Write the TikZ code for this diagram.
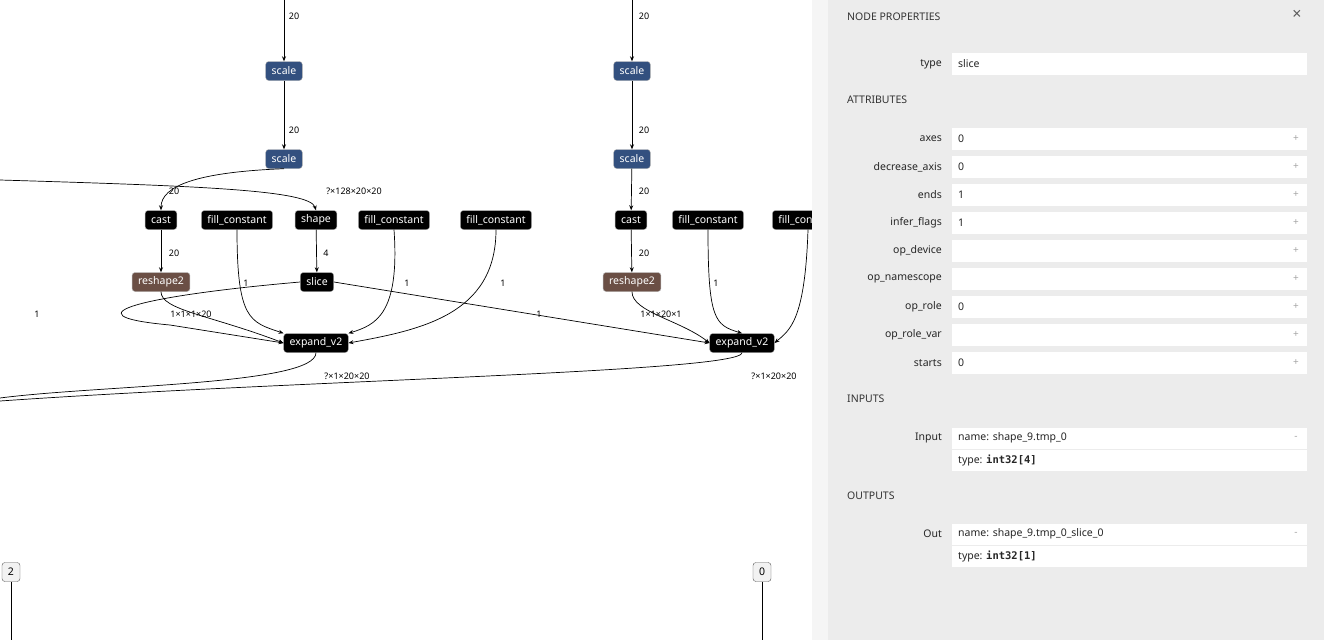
\documentclass[tikz,border=0pt]{standalone}
\usepackage{fontspec}
\setmainfont{Noto Sans}
\newfontfamily\monof{DejaVu Sans Mono}
\usetikzlibrary{arrows.meta}
\definecolor{sc}{HTML}{33507F}
\definecolor{rs}{HTML}{6B4F45}
\definecolor{pbg}{HTML}{ECECEC}
\begin{document}
\begin{tikzpicture}[x=1pt,y=-1pt,
 op/.style={rounded corners=3pt,fill=black,draw=gray!60,text=white,font=\fontsize{10.5}{12}\selectfont,minimum height=19pt,inner xsep=6pt,inner ysep=0pt},
 scl/.style={op,fill=sc},
 rsh/.style={op,fill=rs},
 num/.style={rounded corners=3pt,fill=white!95!black,draw=gray!70!black,font=\fontsize{10.5}{12}\selectfont,minimum width=18pt,minimum height=19pt,inner sep=0pt},
 e/.style={draw=black,line width=0.7pt,-{Stealth[length=5pt,width=4pt]}},
 ln/.style={draw=black,line width=0.7pt},
 lb/.style={font=\fontsize{9}{10}\selectfont,inner sep=0pt},
 pl/.style={font=\fontsize{10.5}{12}\selectfont,anchor=east,inner sep=0pt,text=black!85},
 pv/.style={font=\fontsize{10.5}{12}\selectfont,anchor=west,inner sep=0pt,text=black!85},
 ph/.style={font=\bfseries\fontsize{10.5}{12}\selectfont,anchor=west,inner sep=0pt,text=black!80},
 box/.style={fill=white,draw=none}]
\useasboundingbox (0,0) rectangle (1324,640);
\fill[white] (0,0) rectangle (1324,640);
\begin{scope}
\clip (0,0) rectangle (812,640);
% left column
\coordinate (tl) at (284,0);
\node[scl] (s1) at (284,71) {scale};
\node[scl] (s2) at (284,159) {scale};
\node[op] (c1) at (161,220) {cast};
\node[op] (f1) at (237,220) {fill\_constant};
\node[op] (sh) at (316,220) {shape};
\node[op] (f2) at (394,220) {fill\_constant};
\node[op] (f3) at (496,220) {fill\_constant};
\node[rsh] (r1) at (161,282) {reshape2};
\node[op] (sl) at (317,282) {slice};
\node[op] (x1) at (316,343) {expand\_v2};
% right column
\coordinate (tr) at (632,0);
\node[scl] (s3) at (632,71) {scale};
\node[scl] (s4) at (632,159) {scale};
\node[op] (c2) at (631,220) {cast};
\node[op] (f4) at (708,220) {fill\_constant};
\node[op] (f5) at (808,220) {fill\_constant};
\node[rsh] (r2) at (632,282) {reshape2};
\node[op] (x2) at (742,343) {expand\_v2};
\node[num] (n2) at (11,572) {2};
\node[num] (n0) at (762,572) {0};
\coordinate (lft) at (0,180);
\coordinate (o1) at (0,398);
\coordinate (o2) at (0,401);
\coordinate (b2) at (11,640);
\coordinate (b0) at (762,640);

\draw[e] (tl) -- (s1);
\draw[e] (s1) -- (s2);
\draw[e] (tr) -- (s3);
\draw[e] (s3) -- (s4);
\draw[e] (s2.south) .. controls (200,172) and (161,185) .. (c1.north);
\draw[e] (lft) .. controls (200,186) and (310,190) .. (sh.north);
\draw[e] (s4) -- (c2);
\draw[e] (c1) -- (r1);
\draw[e] (c2) -- (r2);
\draw[e] (sh) -- (sl);
\draw[e] (f1.south) .. controls (237,320) and (250,322) .. (x1.north west);
\draw[e] (f2.south) .. controls (400,315) and (375,325) .. (x1.north east);
\draw[e] (f3.south) .. controls (496,315) and (420,330) .. (x1.east);
\draw[e] (r1.south) .. controls (161,310) and (210,315) .. (x1.west);
\draw[e] (sl.west) .. controls (150,295) and (60,315) .. (170,325) -- (x1.west);
\draw[e] (sl.east) -- (x2.west);
\draw[e] (r2.south) .. controls (632,312) and (680,320) .. (x2.west);
\draw[e] (f4.south) .. controls (708,320) and (715,325) .. (x2.north);
\draw[e] (f5.south) .. controls (805,320) and (790,330) .. (x2.east);
\draw[ln] (x1.south) .. controls (316,385) and (100,385) .. (o1);
\draw[ln] (x2.south) .. controls (742,372) and (300,380) .. (o2);
\draw[ln] (n2) -- (b2);
\draw[ln] (n0) -- (b0);

\node[lb] at (294,16) {20};
\node[lb] at (644,16) {20};
\node[lb] at (294,130) {20};
\node[lb] at (644,130) {20};
\node[lb] at (174,191) {20};
\node[lb] at (644,191) {20};
\node[lb] at (354,191) {?×128×20×20};
\node[lb] at (174,253) {20};
\node[lb] at (644,253) {20};
\node[lb] at (326,253) {4};
\node[lb] at (246,283) {1};
\node[lb] at (407,283) {1};
\node[lb] at (503,283) {1};
\node[lb] at (716,283) {1};
\node[lb] at (37,314) {1};
\node[lb] at (191,314) {1×1×1×20};
\node[lb] at (539,314) {1};
\node[lb] at (661,314) {1×1×20×1};
\node[lb] at (347,376) {?×1×20×20};
\node[lb] at (774,376) {?×1×20×20};
\end{scope}
% panel
\fill[black!4] (812,0) rectangle (828,640);
\fill[pbg] (828,0) rectangle (1324,640);
\node[ph] (h1) at (847,17) {NODE PROPERTIES};
\node[font=\fontsize{16}{16}\selectfont,text=black!65,inner sep=0pt] (cl) at (1297,15) {×};
\fill[white] (952,53) rectangle (1307,75);
\node[pl] (ltype) at (942,64) {type};
\node[pv] (vtype) at (958,64) {slice};
\node[ph] (h2) at (847,100) {ATTRIBUTES};
\foreach \y/\k/\v in {139/axes/0,167/decrease\_axis/0,195/ends/1,223/infer\_flags/1,251/op\_device/,279/op\_namescope//,307/op\_role/0,335/op\_role\_var/,363/starts/0}{
 \fill[white] (952,\y-11) rectangle (1307,\y+11);
 \node[pl] at (942,\y) {\k};
 \node[pv] at (958,\y) {\v};
 \node[font=\fontsize{10}{10}\selectfont,text=black!35,inner sep=0pt] at (1296,\y) {+};
}
\node[ph] (h3) at (847,399) {INPUTS};
\fill[white] (952,428) rectangle (1307,471);
\draw[pbg,line width=1pt] (952,449.5) -- (1307,449.5);
\node[pl] (lin) at (942,438) {Input};
\node[pv] at (958,438) {name: \textbf{shape\_9.tmp\_0}};
\node[pv] at (958,460) {type: {\monof\bfseries int32[4]}};
\node[text=black!35,inner sep=0pt,font=\fontsize{10}{10}\selectfont] at (1296,438) {-};
\node[ph] (h4) at (847,496) {OUTPUTS};
\fill[white] (952,524) rectangle (1307,567);
\draw[pbg,line width=1pt] (952,545.5) -- (1307,545.5);
\node[pl] (lout) at (942,534) {Out};
\node[pv] at (958,534) {name: \textbf{shape\_9.tmp\_0\_slice\_0}};
\node[pv] at (958,556) {type: {\monof\bfseries int32[1]}};
\node[text=black!35,inner sep=0pt,font=\fontsize{10}{10}\selectfont] at (1296,534) {-};
\end{tikzpicture}
\end{document}
